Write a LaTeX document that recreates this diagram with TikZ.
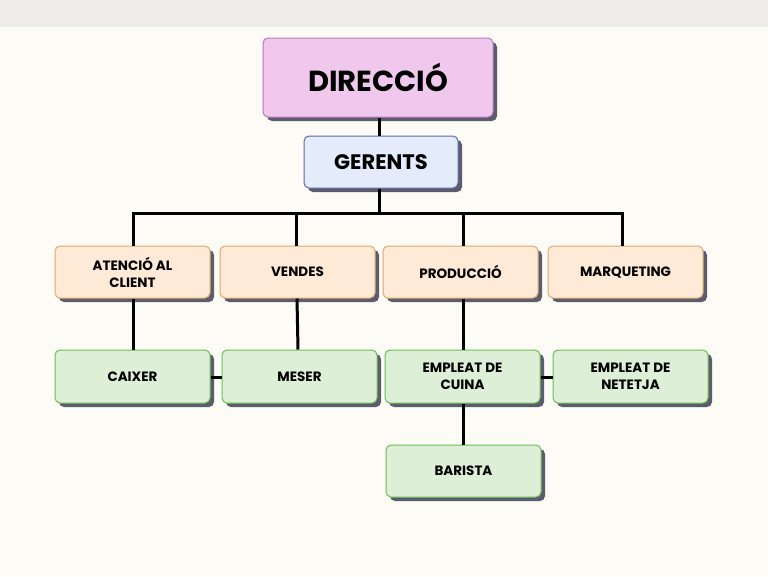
\documentclass[tikz,border=0pt]{standalone}
\usepackage{fontspec}
\setmainfont{Poppins}
\usetikzlibrary{shadows}
\definecolor{bgcream}{HTML}{FDFBF6}
\definecolor{bgtop}{HTML}{F0ECEA}
\definecolor{shadowgray}{HTML}{5C5C6E}
\definecolor{pinkfill}{HTML}{F0C8EE}
\definecolor{pinkline}{HTML}{B77BB8}
\definecolor{bluefill}{HTML}{E4ECFC}
\definecolor{blueline}{HTML}{5E6AA8}
\definecolor{orangefill}{HTML}{FEEAD6}
\definecolor{orangeline}{HTML}{E0A86A}
\definecolor{greenfill}{HTML}{DDEFD6}
\definecolor{greenline}{HTML}{6CBE55}
\tikzset{
  box/.style={rectangle, rounded corners=5pt, line width=1pt, align=center,
    font=\bfseries\fontsize{13.5}{17}\selectfont,
    drop shadow={shadow xshift=4pt, shadow yshift=-4pt, fill=shadowgray, opacity=1}},
  dept/.style={box, fill=orangefill, draw=orangeline, minimum width=155pt, minimum height=52pt},
  job/.style={box, fill=greenfill, draw=greenline, minimum width=155pt, minimum height=53pt},
  link/.style={line width=3pt}
}
\begin{document}
\begin{tikzpicture}[x=1pt,y=-1pt]
  \fill[bgcream] (0,0) rectangle (768,576);
  \fill[bgtop] (0,0) rectangle (768,27);
  \useasboundingbox (0,0) rectangle (768,576);

  % nivells superiors
  \node[box, fill=pinkfill, draw=pinkline, minimum width=230pt, minimum height=79pt,
    font=\bfseries\fontsize{29}{33}\selectfont] (dir) at (378,77.5) {DIRECCIÓ};
  \node[box, fill=bluefill, draw=blueline, minimum width=154pt, minimum height=52pt,
    font=\bfseries\fontsize{21}{24}\selectfont] (ger) at (381,162) {GERENTS};

  % departaments
  \node[dept] (ate) at (132.5,272) {ATENCIÓ AL\\CLIENT};
  \node[dept] (ven) at (297.5,272) {VENDES};
  \node[dept] (pro) at (460.5,272) {PRODUCCIÓ};
  \node[dept] (mar) at (625.5,272) {MARQUETING};

  % llocs de treball
  \node[job] (cai) at (132.5,376.5) {CAIXER};
  \node[job] (mes) at (299.5,376.5) {MESER};
  \node[job] (cui) at (462.5,376.5) {EMPLEAT DE\\CUINA};
  \node[job] (net) at (630.5,376.5) {EMPLEAT DE\\NETETJA};
  \node[job, minimum height=52pt] (bar) at (463.5,471) {BARISTA};

  % connexions
  \coordinate (busl) at (133,213);
  \coordinate (busr) at (622,213);
  \draw[link] (dir.south -| 379,0) -- (ger.north -| 379,0);
  \draw[link] (ger.south -| 379,0) -- (379,213);
  \draw[link] (ate.north -| 133,0) -- (busl) -- (busr) -- (mar.north -| 622,0);
  \draw[link] (296,213) -- (ven.north -| 296,0);
  \draw[link] (463,213) -- (pro.north -| 463,0);
  \draw[link] (ate.south -| 133,0) -- (cai.north -| 133,0);
  \draw[link] (ven.south -| 297,0) -- (mes.north -| 298,0);
  \draw[link] (pro.south -| 463,0) -- (cui.north -| 463,0);
  \draw[link] (cui.south -| 463,0) -- (bar.north -| 463,0);
  \draw[link] (cai.east |- 0,377) -- (mes.west |- 0,377);
  \draw[link] (cui.east |- 0,377) -- (net.west |- 0,377);
\end{tikzpicture}
\end{document}
